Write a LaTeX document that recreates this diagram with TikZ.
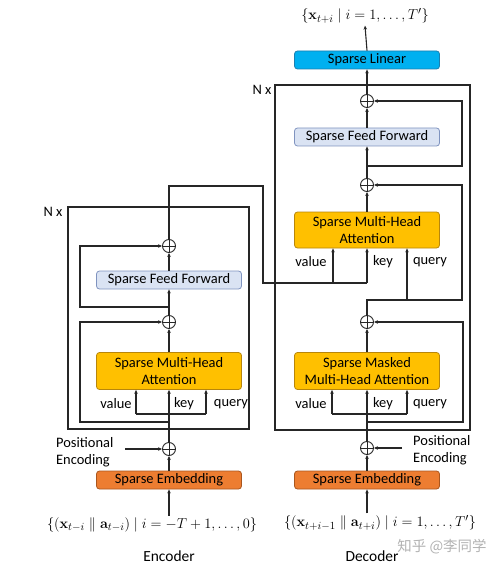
\documentclass[tikz,border=0pt]{standalone}
\usepackage{amsmath}
\usepackage[no-math]{fontspec}
\setmainfont{Carlito}
\newfontfamily\cjk{Noto Sans CJK SC}
\usetikzlibrary{positioning}
\usetikzlibrary {arrows.meta}
\definecolor{ffnfill}{HTML}{DAE3F3}
\definecolor{ffndraw}{HTML}{7F93BF}
\definecolor{attfill}{HTML}{FFC000}
\definecolor{attdraw}{HTML}{B8860B}
\definecolor{embfill}{HTML}{ED7D31}
\definecolor{embdraw}{HTML}{A9561E}
\definecolor{linfill}{HTML}{00B0F0}
\definecolor{lindraw}{HTML}{1C7FB0}
\tikzset{sparsebox/.style={rectangle,rounded corners=3bp,line width=0.8bp,
inner sep=0pt,minimum height=18bp, minimum width=145bp,align=center,
font=\fontsize{14.5}{17}\selectfont}}
\tikzset{ffnbox/.style={sparsebox,draw=ffndraw,fill=ffnfill}}
\tikzset{attbox/.style={sparsebox,draw=attdraw,fill=attfill,minimum height=37bp}}
\tikzset{embbox/.style={sparsebox,draw=embdraw,fill=embfill}}
\tikzset{linbox/.style={sparsebox,draw=lindraw,fill=linfill}}
\tikzset{addnode/.style={circle,draw=black!85,line width=0.9bp,inner sep=0pt,
minimum size=13bp,path picture={\draw[line width=0.9bp]
(path picture bounding box.north) -- (path picture bounding box.south)
(path picture bounding box.west) -- (path picture bounding box.east);}}}
\tikzset{layerbox/.style={draw=black!85,line width=1.8bp}}
\tikzset{link/.style={draw=black!85,line width=1.1bp}}
\tikzset{arrowlink/.style={link,-{Stealth[length=4bp,width=3.5bp]}}}
\tikzset{smalltext/.style={inner sep=0pt,font=\fontsize{14.5}{17}\selectfont}}
\tikzset{mathtext/.style={inner sep=2pt,font=\fontsize{15}{17}\selectfont}}

\begin{document}
\begin{tikzpicture}[x=1bp,y=-1bp]
    \useasboundingbox (0,0) rectangle (501,569);

    % encoder
    \draw[layerbox] (68,207) rectangle (249,429);
    \node[smalltext] (encN) at (53,212) {N x};
    \node[embbox] (encemb) at (169,480) {Sparse Embedding};
    \node[addnode] (encpos) at (169,449) {};
    \node[attbox] (encatt) at (169,371) {Sparse Multi-Head\\Attention};
    \node[addnode] (encaddA) at (169,322) {};
    \node[ffnbox] (encffn) at (169,280) {Sparse Feed Forward};
    \node[addnode] (encaddB) at (169,246) {};
    \node[mathtext] (encin) at (152,525) {$\{(\mathbf{x}_{t-i}\parallel\mathbf{a}_{t-i})\mid i=-T+1,\ldots,0\}$};
    \node[smalltext,font=\fontsize{15.5}{18}\selectfont] (enclabel) at (169,556) {Encoder};
    \node[smalltext,align=left,anchor=west] (encposlabel) at (56,452) {Positional\\Encoding};

    \coordinate (encposin) at (125,449);
    \coordinate (encval) at (136,414);
    \coordinate (encqry) at (206,414);
    \coordinate (encresA) at (169,422);
    \coordinate (encresB) at (169,307);
    \node[smalltext] (encvallabel) at (116,404) {value};
    \node[smalltext] (enckeylabel) at (184,404) {key};
    \node[smalltext] (encqrylabel) at (231,404) {query};

    \draw[arrowlink] (encemb.south |- encin.north) -- (encemb.south);
    \draw[arrowlink] (encemb.north) -- (encpos.south);
    \draw[arrowlink] (encposin) -- (encpos.west);
    \draw[arrowlink] (encpos.north) -- (encatt.south);
    \draw[link] (encval) -- (encqry);
    \draw[arrowlink] (encval) -- (encval |- encatt.south);
    \draw[arrowlink] (encqry) -- (encqry |- encatt.south);
    \draw[arrowlink] (encresA) -- ++(-89,0) |- (encaddA.west);
    \draw[arrowlink] (encatt.north) -- (encaddA.south);
    \draw[arrowlink] (encaddA.north) -- (encffn.south);
    \draw[arrowlink] (encresB) -- ++(-89,0) |- (encaddB.west);
    \draw[arrowlink] (encffn.north) -- (encaddB.south);

    % decoder
    \draw[layerbox] (275,85) rectangle (470,430);
    \node[smalltext] (decN) at (262,90) {N x};
    \node[embbox] (decemb) at (367,480) {Sparse Embedding};
    \node[addnode] (decpos) at (367,448) {};
    \node[attbox] (decmask) at (367,371) {Sparse Masked\\Multi-Head Attention};
    \node[addnode] (decaddA) at (367,322) {};
    \node[attbox,minimum height=36bp] (decmha) at (367,230) {Sparse Multi-Head\\Attention};
    \node[addnode] (decaddB) at (367,185) {};
    \node[ffnbox] (decffn) at (367,137) {Sparse Feed Forward};
    \node[addnode] (decaddC) at (367,101) {};
    \node[linbox] (declin) at (367,60) {Sparse Linear};
    \node[mathtext] (decin) at (380,523) {$\{(\mathbf{x}_{t+i-1}\parallel\mathbf{a}_{t+i})\mid i=1,\ldots,T'\}$};
    \node[mathtext] (decout) at (365,16) {$\{\mathbf{x}_{t+i}\mid i=1,\ldots,T'\}$};
    \node[smalltext,font=\fontsize{15.5}{18}\selectfont] (declabel) at (372,556) {Decoder};
    \node[smalltext,align=left,anchor=west] (decposlabel) at (413,450) {Positional\\Encoding};

    \coordinate (decposin) at (402,448);
    \coordinate (decval) at (332,414);
    \coordinate (decqry) at (407,414);
    \coordinate (decresA) at (367,422);
    \coordinate (decsplit) at (367,300);
    \coordinate (decmhaqry) at (407,300);
    \coordinate (decresC) at (367,166);
    \node[smalltext] (decvallabel) at (311,404) {value};
    \node[smalltext] (deckeylabel) at (383,404) {key};
    \node[smalltext] (decqrylabel) at (430,404) {query};
    \node[smalltext] (mhavallabel) at (311,262) {value};
    \node[smalltext] (mhakeylabel) at (383,262) {key};
    \node[smalltext] (mhaqrylabel) at (430,262) {query};

    \draw[arrowlink] (decemb.south |- decin.north) -- (decemb.south);
    \draw[arrowlink] (decemb.north) -- (decpos.south);
    \draw[arrowlink] (decposin) -- (decpos.east);
    \draw[arrowlink] (decpos.north) -- (decmask.south);
    \draw[link] (decval) -- (decqry);
    \draw[arrowlink] (decval) -- (decval |- decmask.south);
    \draw[arrowlink] (decqry) -- (decqry |- decmask.south);
    \draw[arrowlink] (decresA) -- ++(96,0) |- (decaddA.east);
    \draw[arrowlink] (decmask.north) -- (decaddA.south);
    \draw[link] (decaddA.north) -- (decsplit) -- (decmhaqry);
    \draw[arrowlink] (decmhaqry) -- (decmhaqry |- decmha.south);
    \draw[arrowlink] (decmhaqry) -- ++(55,0) |- (decaddB.east);
    \draw[arrowlink] (decmha.north) -- (decaddB.south);
    \draw[arrowlink] (decaddB.north) -- (decffn.south);
    \draw[arrowlink] (decresC) -- ++(95,0) |- (decaddC.east);
    \draw[arrowlink] (decffn.north) -- (decaddC.south);
    \draw[arrowlink] (decaddC.north) -- (declin.south);
    \draw[arrowlink] (declin.north) -- (decout.south);

    % encoder output into decoder
    \coordinate (encoutturn) at (263,186);
    \coordinate (encoutval) at (333,283);
    \coordinate (encoutkey) at (367,283);
    \draw[link] (encaddB.north) |- (encoutturn) |- (encoutkey);
    \draw[arrowlink] (encoutval) -- (encoutval |- decmha.south);
    \draw[arrowlink] (encoutkey) -- (decmha.south);

    \node[smalltext,text=black!30,font=\cjk\fontsize{14.5}{17}\selectfont] (mark) at (442,547) {知乎 @李同学};
\end{tikzpicture}
\end{document}
